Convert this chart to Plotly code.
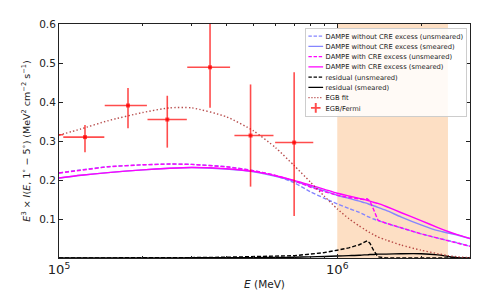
import plotly.graph_objects as go

# ---------------- data ----------------
energy = [1.0e5, 1.2e5, 1.5e5, 2.0e5, 2.5e5, 3.0e5, 4.0e5, 5.0e5, 6.0e5, 7.0e5,
          8.0e5, 9.0e5, 1.0e6, 1.1e6, 1.2e6, 1.25e6, 1.28e6, 1.31e6, 1.35e6, 1.4e6,
          1.5e6, 1.7e6, 2.0e6, 2.3e6, 2.5e6, 2.7e6, 3.0e6]

no_excess_unsmeared = [0.218, 0.226, 0.234, 0.239, 0.241, 0.240, 0.234, 0.224, 0.211, 0.193,
                       0.170, 0.153, 0.139, 0.127, 0.117, 0.111, 0.107, 0.104, 0.100, 0.096,
                       0.089, 0.077, 0.062, 0.051, 0.045, 0.039, 0.030]
no_excess_smeared = [0.205, 0.212, 0.219, 0.226, 0.230, 0.232, 0.228, 0.221, 0.2095, 0.197,
                     0.184, 0.172, 0.161, 0.153, 0.146, 0.142, 0.140, 0.137, 0.134, 0.130,
                     0.122, 0.105, 0.085, 0.070, 0.064, 0.059, 0.050]
excess_unsmeared = [0.218, 0.226, 0.234, 0.239, 0.241, 0.240, 0.234, 0.224, 0.212, 0.198,
                    0.182, 0.170, 0.161, 0.155, 0.151, 0.150, 0.152, 0.146, 0.125, 0.097,
                    0.089, 0.077, 0.062, 0.051, 0.045, 0.039, 0.030]
excess_smeared = [0.205, 0.212, 0.219, 0.226, 0.230, 0.232, 0.229, 0.222, 0.211, 0.199,
                  0.187, 0.176, 0.166, 0.159, 0.153, 0.150, 0.148, 0.146, 0.143, 0.140,
                  0.132, 0.116, 0.096, 0.078, 0.068, 0.060, 0.050]
residual_unsmeared = [0.0, 0.0, 0.0, 0.0005, 0.001, 0.001, 0.002, 0.003, 0.004, 0.006,
                      0.010, 0.014, 0.020, 0.026, 0.034, 0.040, 0.044, 0.038, 0.020, 0.003,
                      0.0, 0.0, 0.0, 0.0, 0.0, 0.0, 0.0]
residual_smeared = [0.0, 0.0, 0.0, 0.0, 0.0, 0.0005, 0.001, 0.001, 0.0015, 0.002,
                    0.003, 0.004, 0.005, 0.006, 0.007, 0.008, 0.008, 0.009, 0.009, 0.010,
                    0.010, 0.011, 0.011, 0.008, 0.004, 0.001, 0.0]
egb_fit = [0.315, 0.331, 0.352, 0.373, 0.385, 0.385, 0.362, 0.326, 0.283, 0.237,
           0.195, 0.158, 0.126, 0.101, 0.082, 0.074, 0.069, 0.065, 0.060, 0.054,
           0.046, 0.033, 0.020, 0.011, 0.006, 0.003, 0.001]

# EGB / Fermi points
egb_e = [8.7e4, 1.24e5, 1.77e5, 2.45e5, 3.49e5, 4.88e5, 7.0e5]
egb_e_lo = [7.35e4, 1.036e5, 1.46e5, 2.08e5, 2.89e5, 4.27e5, 5.98e5]
egb_e_hi = [1.035e5, 1.455e5, 2.07e5, 2.88e5, 4.12e5, 5.90e5, 8.20e5]
egb_val = [0.316, 0.310, 0.391, 0.355, 0.489, 0.314, 0.296]
egb_lo = [0.286, 0.271, 0.333, 0.283, 0.385, 0.183, 0.108]
egb_hi = [0.346, 0.341, 0.436, 0.416, 0.610, 0.445, 0.476]

# highlighted energy band
band = [1.0e6, 2.5e6]

legend_names = ["DAMPE without CRE excess (unsmeared)",
                "DAMPE without CRE excess (smeared)",
                "DAMPE with CRE excess (unsmeared)",
                "DAMPE with CRE excess (smeared)",
                "residual (unsmeared)",
                "residual (smeared)",
                "EGB fit",
                "EGB/Fermi"]

# ---------------- styles ----------------
BLUE = "#8585ff"
MAG = "#ff00ff"
DASH = "4px,2px"
DOT = "1.4px,2.2px"
FIT = "rgba(170,45,45,0.85)"
RED = "rgba(255,0,0,0.7)"
LEG_SCALE = 0.49

fig = go.Figure()

curves = [
    (no_excess_unsmeared, BLUE, DASH, "spline"),
    (no_excess_smeared, BLUE, "solid", "spline"),
    (excess_unsmeared, MAG, DASH, "linear"),
    (excess_smeared, MAG, "solid", "spline"),
    (residual_unsmeared, "black", DASH, "linear"),
    (residual_smeared, "black", "solid", "spline"),
    (egb_fit, FIT, DOT, "spline"),
]
for vals, col, dash, shape in curves:
    fig.add_trace(go.Scatter(x=energy, y=vals, mode="lines", showlegend=False,
                             line=dict(color=col, width=1.4, dash=dash, shape=shape,
                                       smoothing=0.6 if shape == "spline" else None)))

fig.add_trace(go.Scatter(
    x=egb_e, y=egb_val, mode="markers", showlegend=False,
    marker=dict(symbol="square", size=4, color=RED),
    error_y=dict(type="data", symmetric=False,
                 array=[h - v for h, v in zip(egb_hi, egb_val)],
                 arrayminus=[v - l for l, v in zip(egb_lo, egb_val)],
                 color=RED, thickness=1.6, width=0),
    error_x=dict(type="data", symmetric=False,
                 array=[h - e for h, e in zip(egb_e_hi, egb_e)],
                 arrayminus=[e - l for l, e in zip(egb_e_lo, egb_e)],
                 color=RED, thickness=1.6, width=0),
))

# legend-only entries (legend is scaled down afterwards)
leg_styles = [(BLUE, "7px,3.5px"), (BLUE, "solid"), (MAG, "7px,3.5px"), (MAG, "solid"),
              ("black", "7px,3.5px"), ("black", "solid"), (FIT, "2.5px,3.5px")]
for name, (col, dash) in zip(legend_names[:7], leg_styles):
    fig.add_trace(go.Scatter(x=[None], y=[None], mode="lines", name=name,
                             line=dict(color=col, width=2.8, dash=dash)))
fig.add_trace(go.Scatter(x=[None], y=[None], mode="markers", name=legend_names[7],
                         marker=dict(symbol="cross-thin", size=14, color=RED,
                                     line=dict(color=RED, width=4))))

fig.add_vrect(x0=band[0], x1=band[1], fillcolor="rgb(253,223,196)", opacity=1,
              line_width=0, layer="below")

axis_common = dict(showline=True, linecolor="#222", linewidth=1, mirror="ticks",
                   ticks="inside", tickcolor="#222", ticklen=4, tickwidth=0.8,
                   showgrid=False, zeroline=False,
                   tickfont=dict(family="DejaVu Sans", size=10.5, color="#222"))

fig.update_xaxes(type="log", range=[5, 6.4771], dtick=1, exponentformat="power",
                 minor=dict(ticks="inside", ticklen=2, tickcolor="#222", dtick="D1",
                            showgrid=False),
                 title=dict(text="<i>E</i> (MeV)", standoff=4,
                            font=dict(family="DejaVu Sans", size=10.5, color="#222")),
                 **axis_common)
fig.update_yaxes(range=[0, 0.6], tickvals=[0.1, 0.2, 0.3, 0.4, 0.5, 0.6],
                 ticktext=["0.1", "0.2", "0.3", "0.4", "0.5", "0.6"],
                 title=dict(text="<i>E</i><sup>3</sup> × <i>I</i>(<i>E</i>, 1<sup>∘</sup> − 5<sup>∘</sup>) (MeV<sup>2</sup> cm<sup>−2</sup> s<sup>−1</sup>)",
                            standoff=6,
                            font=dict(family="DejaVu Sans", size=9.5, color="#222")),
                 **axis_common)

fig.update_layout(
    width=480, height=295,
    margin=dict(l=59, r=10, t=24, b=37, autoexpand=False),
    paper_bgcolor="white", plot_bgcolor="white",
    font=dict(family="DejaVu Sans", color="#222"),
    legend=dict(x=0.5985, y=0.985, xanchor="left", yanchor="top",
                bgcolor="rgba(255,255,255,0.85)", bordercolor="#cccccc", borderwidth=2,
                font=dict(family="DejaVu Sans", size=13.8, color="#222"),
                tracegroupgap=0),
)

post = """
document.body.style.margin = '0';
document.body.style.padding = '0';
var S = %s;
var gd = document.getElementById('{plot_id}');
function fixLegend(){
  var lg = gd.querySelector('g.legend');
  if(!lg) return;
  var t = lg.getAttribute('transform') || '';
  if(t.indexOf('scale') < 0){ lg.setAttribute('transform', t + ' scale(' + S + ')'); }
  var bg = lg.querySelector('rect.bg');
  if(bg){
    var bgr = bg.getBoundingClientRect();
    var maxR = 0;
    lg.querySelectorAll('text.legendtext').forEach(function(el){
      var r = el.getBoundingClientRect(); if(r.right > maxR) maxR = r.right; });
    if(maxR > 0){ bg.setAttribute('width', (maxR - bgr.left + 3) / S); }
  }
}
fixLegend();
setTimeout(fixLegend, 50);
gd.on('plotly_afterplot', function(){ setTimeout(fixLegend, 0); });
""" % LEG_SCALE

fig.write_html("out.html", post_script=post, config={"displayModeBar": False})
